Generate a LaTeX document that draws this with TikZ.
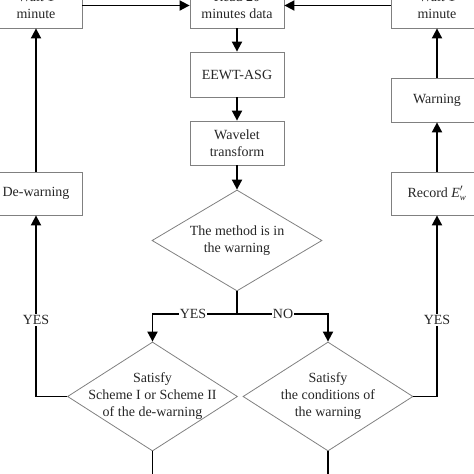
\documentclass[tikz,border=0pt]{standalone}
\usepackage{fontspec}
\setmainfont{Liberation Serif}
\usetikzlibrary{shapes.geometric,arrows.meta}
\begin{document}
\begin{tikzpicture}[x=1pt,y=-1pt,
  font=\fontsize{14}{17}\selectfont,
  every node/.style={text=black!85},
  box/.style={draw=black!50,line width=0.8pt,minimum width=94pt,minimum height=45pt,inner sep=0pt,align=center},
  sbox/.style={box,minimum width=92pt},
  dia/.style={draw=black!50,line width=0.8pt,diamond,minimum width=170pt,inner sep=0pt},
  arr/.style={line width=1.8pt,-{Triangle[length=10pt,width=10pt]}},
  ln/.style={line width=1.8pt},
  lab/.style={fill=white,inner sep=1pt}]
\useasboundingbox (0,0) rectangle (474,474);
% boxes
\node[sbox] (waitL) at (36,5.5) {Wait 1\\minute};
\node[box] (read) at (237,5.5) {Read 20\\minutes data};
\node[sbox] (waitR) at (437,5.5) {Wait 1\\minute};
\node[box] (eewt) at (237,74.5) {EEWT-ASG};
\node[box,minimum height=44pt] (wav) at (237,143) {Wavelet\\transform};
\node[sbox,minimum height=44pt] (warn) at (437,100) {Warning};
\node[sbox,minimum height=43pt] (dew) at (36,193.5) {De-warning};
\node[sbox,minimum height=43pt] (rec) at (437,193.5) {Record \textit{E}$'_{\mbox{\fontsize{9}{9}\selectfont\itshape w}}$};
% diamonds
\node[dia,minimum height=101pt] (d1) at (237,240.5)
  {\makebox[0pt]{\begin{tabular}{@{}c@{}}The method is in\\the warning\end{tabular}}};
\node[dia,minimum height=109pt] (dl) at (152.5,396.5)
  {\makebox[0pt]{\begin{tabular}{@{}c@{}}Satisfy\\Scheme I or Scheme II\\of the de-warning\end{tabular}}};
\node[dia,minimum height=109pt] (dr) at (328,396.5)
  {\makebox[0pt]{\begin{tabular}{@{}c@{}}Satisfy\\the conditions of\\the warning\end{tabular}}};
% coordinates
\coordinate (j) at (237,314);
\coordinate (jl) at (152.5,314);
\coordinate (jr) at (328,314);
\coordinate (bl) at (152.5,480);
\coordinate (br) at (328,480);
% connectors
\draw[arr] (waitL.east |- read) -- (read.west);
\draw[arr] (waitR.west |- read) -- (read.east);
\draw[arr] (read) -- (eewt);
\draw[arr] (eewt) -- (wav);
\draw[arr] (wav) -- (d1);
\draw[ln] (d1.south) -- (j);
\draw[arr] (j) -- (jl) -- (dl.north);
\draw[arr] (j) -- (jr) -- (dr.north);
\node[lab] (yesm) at (193,314) {YES};
\node[lab] (nom) at (283,314) {NO};
\draw[ln] (dl.south) -- (bl);
\draw[ln] (dr.south) -- (br);
\draw[arr] (dl.west) -| (dew.south);
\draw[arr] (dr.east) -| (rec.south);
\node[lab] (yesl) at (36,320) {YES};
\node[lab] (yesr) at (437,320) {YES};
\draw[arr] (dew) -- (waitL);
\draw[arr] (rec) -- (warn);
\draw[arr] (warn) -- (waitR);
\end{tikzpicture}
\end{document}
